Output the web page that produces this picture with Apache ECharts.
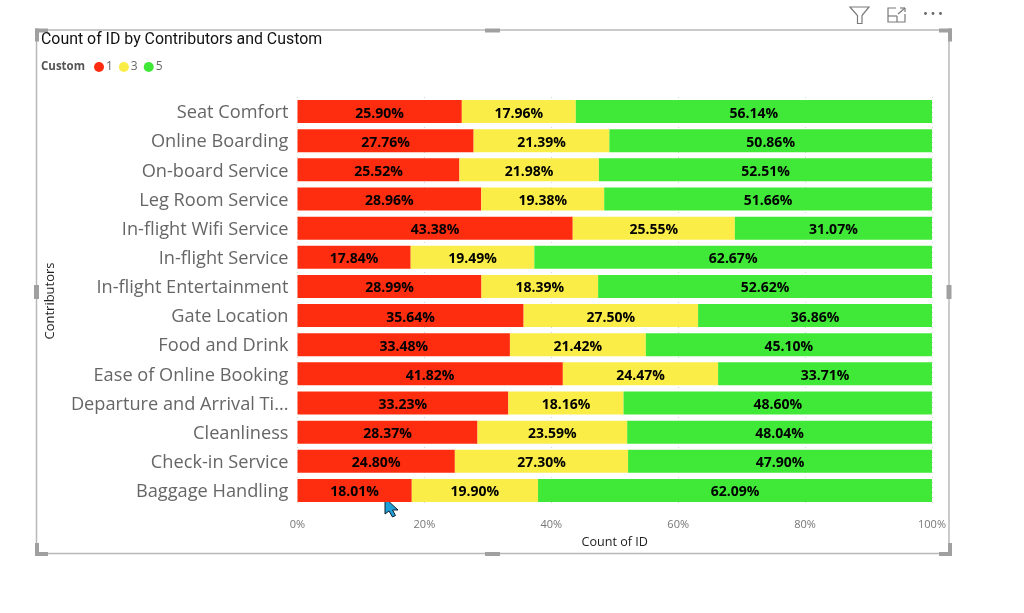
<!DOCTYPE html>
<html><head><meta charset="utf-8">
<style>html,body{margin:0;padding:0;background:#fff}#c{width:1024px;height:613px}</style>
<script src="https://cdn.jsdelivr.net/npm/echarts@6/dist/echarts.min.js"></script>
</head><body><div id="c"></div>
<script>
const categories = ["Seat Comfort","Online Boarding","On-board Service","Leg Room Service","In-flight Wifi Service","In-flight Service","In-flight Entertainment","Gate Location","Food and Drink","Ease of Online Booking","Departure and Arrival Ti...","Cleanliness","Check-in Service","Baggage Handling"];
const custom1 = [25.90,27.76,25.52,28.96,43.38,17.84,28.99,35.64,33.48,41.82,33.23,28.37,24.80,18.01];
const custom3 = [17.96,21.39,21.98,19.38,25.55,19.49,18.39,27.50,21.42,24.47,18.16,23.59,27.30,19.90];
const custom5 = [56.14,50.86,52.51,51.66,31.07,62.67,52.62,36.86,45.10,33.71,48.60,48.04,47.90,62.09];

const frame = '#b8b8b8', handle = '#a0a0a0', icon = '#7a7a7a';
const bodyFont = '"Open Sans", "Noto Sans", sans-serif';
function mk(name, data, color) {
  return {
    name, type: 'bar', stack: 'all', data, barWidth: 23,
    itemStyle: { color },
    label: { show: true, position: 'inside', color: '#000', fontFamily: bodyFont, fontWeight: 'bold', fontSize: 14,
      offset: [0, 2], formatter: p => p.value.toFixed(2) + '%' }
  };
}
const rect = (x, y, w, h, fill) => ({ type: 'rect', silent: true, shape: { x, y, width: w, height: h }, style: { fill } });
const line = (x1, y1, x2, y2, stroke, lineWidth) => ({ type: 'line', silent: true, shape: { x1, y1, x2, y2 }, style: { stroke, lineWidth } });
const poly = (points, fill, stroke, lineWidth) => ({ type: 'polygon', silent: true, shape: { points }, style: { fill, stroke, lineWidth } });
const chrome = [
  line(36.5, 30, 949, 30, frame, 1.5), line(36.5, 553.5, 949, 553.5, frame, 1.5),
  line(36.5, 30, 36.5, 553.5, frame, 1.5), line(949, 30, 949, 553.5, frame, 1.5),
  // corner handles
  rect(35, 28.5, 13, 4, handle), rect(35, 28.5, 4, 13, handle),
  rect(939, 28.5, 13, 4, handle), rect(948, 28.5, 4, 13, handle),
  rect(35, 552, 13, 4, handle), rect(35, 543, 4, 13, handle),
  rect(939, 552, 13, 4, handle), rect(948, 543, 4, 13, handle),
  // edge handles
  rect(485, 28.5, 15, 4, handle), rect(485, 552, 15, 4, handle),
  rect(34, 285, 5, 14, handle), rect(946.5, 285, 5, 14, handle),
  // filter icon
  poly([[850, 7], [869, 7], [862, 15.5], [862, 23.5], [857.5, 23.5], [857.5, 15.5]], '#fff', icon, 1.2),
  // focus icon
  { type: 'polyline', silent: true, shape: { points: [[896, 8], [888, 8], [888, 22], [905, 22], [905, 14]] }, style: { fill: 'none', stroke: icon, lineWidth: 1.2 } },
  line(888, 16, 897, 16, icon, 1.2), line(897, 16, 897, 22, icon, 1.2),
  line(898, 14, 905, 8, icon, 1.2), line(900, 8, 905, 8, icon, 1.2), line(905, 8, 905, 12, icon, 1.2),
  // more dots
  { type: 'circle', silent: true, shape: { cx: 925.5, cy: 13.5, r: 1.4 }, style: { fill: '#666' } },
  { type: 'circle', silent: true, shape: { cx: 933, cy: 13.5, r: 1.4 }, style: { fill: '#666' } },
  { type: 'circle', silent: true, shape: { cx: 940.5, cy: 13.5, r: 1.4 }, style: { fill: '#666' } },
  // legend title
  { type: 'text', silent: true, x: 41, y: 60.5, style: { text: 'Custom', fill: '#555', font: 'bold 11.5px ' + bodyFont } },
  // pointer
  poly([[385, 498], [385, 514], [389, 511], [392.5, 517], [395.5, 515.5], [392.5, 510], [398, 510]], '#1d9fd8', '#10202c', 1)
];
const chart = echarts.init(document.getElementById('c'), null, { renderer: 'canvas' });
chart.setOption({
  animation: false,
  backgroundColor: '#fff',
  title: { text: 'Count of ID by Contributors and Custom', left: 41, top: 32, padding: 0,
    textStyle: { fontFamily: 'Roboto, sans-serif', fontWeight: 'normal', fontSize: 15.9, color: '#111' } },
  legend: { left: 94, top: 61, padding: 0, itemWidth: 10, itemHeight: 10, itemGap: 6, icon: 'circle',
    data: ['1', '3', '5'], selectedMode: false,
    textStyle: { fontFamily: bodyFont, fontSize: 12, color: '#666', padding: [1, 0, 0, -3] } },
  grid: { left: 297.5, right: 92, top: 97, height: 408, containLabel: false },
  xAxis: {
    type: 'value', min: 0, max: 100, interval: 20,
    name: 'Count of ID', nameLocation: 'middle', nameGap: 31,
    nameTextStyle: { fontFamily: bodyFont, fontSize: 12.6, color: '#222' },
    axisLine: { show: false }, axisTick: { show: false },
    axisLabel: { formatter: '{value}%', fontFamily: bodyFont, fontSize: 11, color: '#777', margin: 14 },
    splitLine: { show: true, lineStyle: { color: '#d5d5d5', type: [1, 4], width: 1 } }
  },
  yAxis: {
    type: 'category', inverse: true, data: categories,
    name: 'Contributors', nameLocation: 'middle', nameGap: 241, nameRotate: 90,
    nameTextStyle: { fontFamily: bodyFont, fontSize: 13, color: '#222' },
    axisLine: { show: false }, axisTick: { show: false },
    axisLabel: { margin: 9, formatter: v => '{a|' + v + '}',
      rich: { a: { fontFamily: bodyFont, fontSize: 18.2, color: '#666', padding: [3, 0, 0, 0] } } }
  },
  series: [mk('1', custom1, '#ff2d0f'), mk('3', custom3, '#fbed48'), mk('5', custom5, '#40e838')],
  graphic: { elements: chrome }
});
</script></body></html>
